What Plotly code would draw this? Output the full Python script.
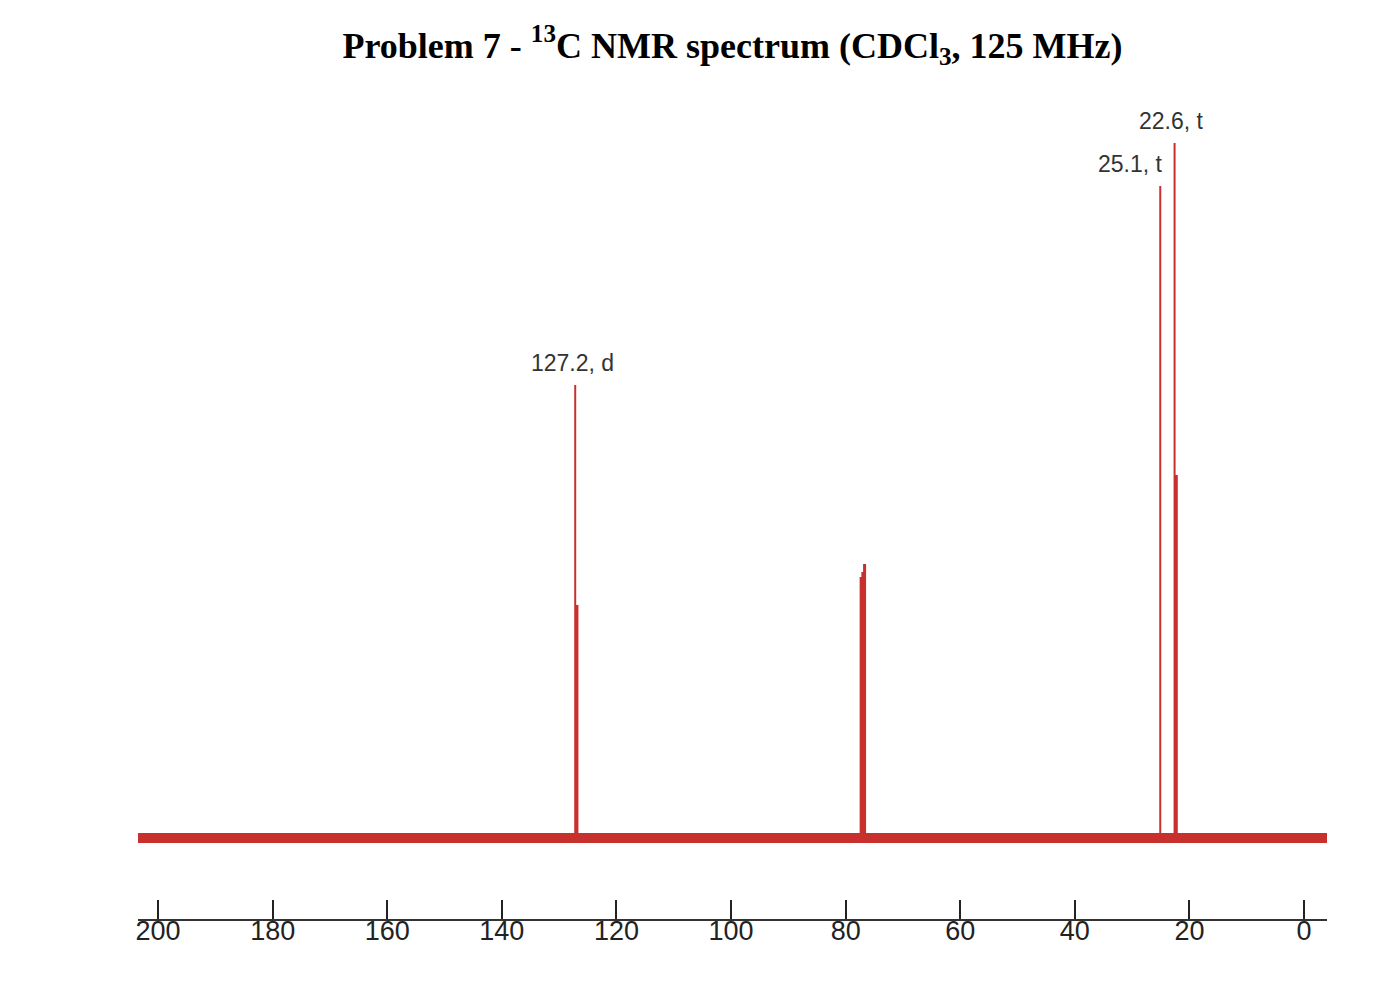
import plotly.graph_objects as go

# Peak data (ppm, intensity in arbitrary units above baseline)
peak_ppm = [127.2, 126.9, 77.3, 77.0, 76.7, 25.1, 22.6, 22.3]
peak_height = [453, 233, 261, 266, 274, 652, 695, 363]
peak_width = [2, 3, 3, 3, 3, 2, 2, 3]

# Baseline extent (ppm)
baseline_ppm = [203.5, -4.0]
baseline_val = [0, 0]

# Labelled peaks
label_ppm = [127.2, 25.1, 22.6]
label_height = [453, 652, 695]
label_text = ["127.2, d", "25.1, t", "22.6, t"]
label_anchor = ["center", "right", "center"]

# Axis ticks
tick_vals = [200, 180, 160, 140, 120, 100, 80, 60, 40, 20, 0]
tick_text = [str(v) for v in tick_vals]

RED = "#C8302E"

fig = go.Figure()

fig.add_trace(go.Scatter(
    x=baseline_ppm, y=baseline_val, mode="lines",
    line=dict(color=RED, width=10), hoverinfo="skip", showlegend=False))

for p, h, w in zip(peak_ppm, peak_height, peak_width):
    fig.add_trace(go.Scatter(
        x=[p, p], y=[0, h], mode="lines",
        line=dict(color=RED, width=w), showlegend=False))

for p, h, t, a in zip(label_ppm, label_height, label_text, label_anchor):
    fig.add_annotation(
        x=p, y=h + 22, text=t, showarrow=False, xanchor=a, yanchor="middle",
        xshift=5 if a == "right" else -3,
        font=dict(family="Liberation Sans, Arial, sans-serif", size=23, color="#333333"))

fig.update_layout(
    width=1390, height=998,
    margin=dict(l=138, r=63, t=100, b=79),
    paper_bgcolor="white", plot_bgcolor="white",
    title=dict(
        text="<b>Problem 7 - <sup>13</sup>C NMR spectrum (CDCl<sub>3</sub>, 125 MHz)</b>",
        x=0.5, xref="paper", xanchor="center",
        y=1 - 45 / 998, yref="container", yanchor="middle",
        font=dict(family="Liberation Serif, Times New Roman, serif", size=36, color="black")),
    xaxis=dict(
        range=[203.5, -4.0], tickvals=tick_vals, ticktext=tick_text,
        ticks="inside", ticklen=19, tickwidth=2, tickcolor="#222222",
        showline=True, linecolor="#333333", linewidth=2,
        showgrid=False, zeroline=False, ticklabelstandoff=-13,
        tickfont=dict(family="Liberation Sans Narrow, Arial Narrow, Liberation Sans, sans-serif", size=27, color="#222222")),
    yaxis=dict(range=[-81, 738], visible=False, showgrid=False, zeroline=False),
)

fig.write_html("out.html")
